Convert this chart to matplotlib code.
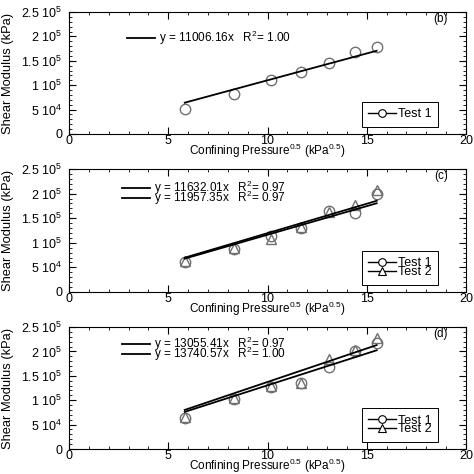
import numpy as np
import matplotlib.pyplot as plt
from matplotlib.lines import Line2D
from matplotlib.ticker import MultipleLocator, FuncFormatter

plt.rcParams['font.family'] = ['Liberation Sans', 'DejaVu Sans']
plt.rcParams['mathtext.fontset'] = 'custom'
plt.rcParams['mathtext.rm'] = 'Liberation Sans'
plt.rcParams['mathtext.it'] = 'Liberation Sans:italic'
plt.rcParams['mathtext.bf'] = 'Liberation Sans:bold'

# Data
x = [5.83, 8.3, 10.2, 11.7, 13.1, 14.4, 15.5]  # confining pressure^0.5

b_test1 = [51000, 81000, 110000, 128000, 145000, 169000, 178000]

c_test1 = [60000, 86500, 114000, 131000, 165000, 161000, 200000]
c_test2 = [62500, 88500, 107500, 133000, 162000, 177000, 208000]

d_test1 = [63000, 102500, 128000, 134500, 169000, 200000, 218000]
d_test2 = [65000, 104500, 130000, 135000, 184000, 202000, 227000]

# fitted slopes (through origin) and R^2
b_slopes = [11006.16]
b_r2 = ['1.00']
c_slopes = [11632.01, 11957.35]
c_r2 = ['0.97', '0.97']
d_slopes = [13055.41, 13740.57]
d_r2 = ['0.97', '1.00']

panels = [
    ('(b)', [b_test1], b_slopes, b_r2, [0.1456, 0.7173, 0.8376, 0.2574], (0.146, 0.86)),
    ('(c)', [c_test1, c_test2], c_slopes, c_r2, [0.1456, 0.3840, 0.8376, 0.2595], (0.1335, 0.92)),
    ('(d)', [d_test1, d_test2], d_slopes, d_r2, [0.1456, 0.0527, 0.8376, 0.2574], (0.1335, 0.935)),
]

markers = ['o', '^']
names = ['Test 1', 'Test 2']
mcol = '#707070'
fs = 8.5


def ylab(v, pos):
    if v <= 0:
        return '0'
    e = int(np.floor(np.log10(v)))
    m = v / 10 ** e
    ms = ('%g' % m)
    return r'%s $\mathregular{10^{%d}}$' % (ms, e)


fig = plt.figure(figsize=(4.74, 4.74), dpi=100)

for tag, series, slopes, r2s, pos, eqpos in panels:
    ax = fig.add_axes(pos)
    xs = np.array(x)
    for i, s in enumerate(series):
        ax.plot(xs, s, linestyle='none', marker=markers[i], ms=7.5,
                mfc='none', mec=mcol, mew=1.0)

    eq_handles = []
    for k, sl in enumerate(slopes):
        h, = ax.plot([xs[0], xs[-1]], [sl * xs[0], sl * xs[-1]], color='black', lw=1.3)
        eq_handles.append(h)
    eq_labels = [r'y = %.2fx   R$\mathregular{^2}$= %s' % (sl, r) for sl, r in zip(slopes, r2s)]
    leg1 = ax.legend(eq_handles, eq_labels, loc='upper left', bbox_to_anchor=eqpos,
                     frameon=False, fontsize=fs, handlelength=2.4, handletextpad=0.3,
                     labelspacing=-0.7, borderpad=0, borderaxespad=0)
    ax.add_artist(leg1)

    prox = [Line2D([], [], color='black', lw=1.0, marker=markers[i], ms=5.5,
                   mfc='white', mec='black', mew=0.8) for i in range(len(series))]
    ax.legend(prox, names[:len(series)], loc='lower right', bbox_to_anchor=(0.93, 0.06),
              fontsize=fs + 0.5, frameon=True, fancybox=False, edgecolor='black',
              handlelength=2.2, handletextpad=0.2, labelspacing=-0.25,
              borderpad=0.5, borderaxespad=0, framealpha=1)
    ax.get_legend().get_frame().set_linewidth(0.7)

    ax.text(0.955, 0.945, tag, transform=ax.transAxes, ha='right', va='center', fontsize=fs)

    ax.set_xlim(0, 20)
    ax.set_ylim(0, 250000)
    ax.xaxis.set_major_locator(MultipleLocator(5))
    ax.xaxis.set_minor_locator(MultipleLocator(1))
    ax.yaxis.set_major_locator(MultipleLocator(50000))
    ax.yaxis.set_minor_locator(MultipleLocator(10000))
    ax.yaxis.set_major_formatter(FuncFormatter(ylab))
    ax.tick_params(which='both', direction='in', top=True, right=True, labelsize=fs + 0.5)
    ax.tick_params(axis='x', which='major', pad=0.5)
    ax.tick_params(axis='y', which='major', pad=5)
    ax.tick_params(which='major', length=5, width=0.8)
    ax.tick_params(which='minor', length=2.5, width=0.6)
    for sp in ax.spines.values():
        sp.set_linewidth(0.8)
    ax.set_xlabel(r'Confining Pressure$\mathregular{^{0.5}}$ (kPa$\mathregular{^{0.5}}$)',
                  fontsize=fs, labelpad=-3.5)
    ax.set_ylabel('Shear Modulus (kPa)', fontsize=9.3, labelpad=4.7)

fig.savefig('out.png', dpi=100)
